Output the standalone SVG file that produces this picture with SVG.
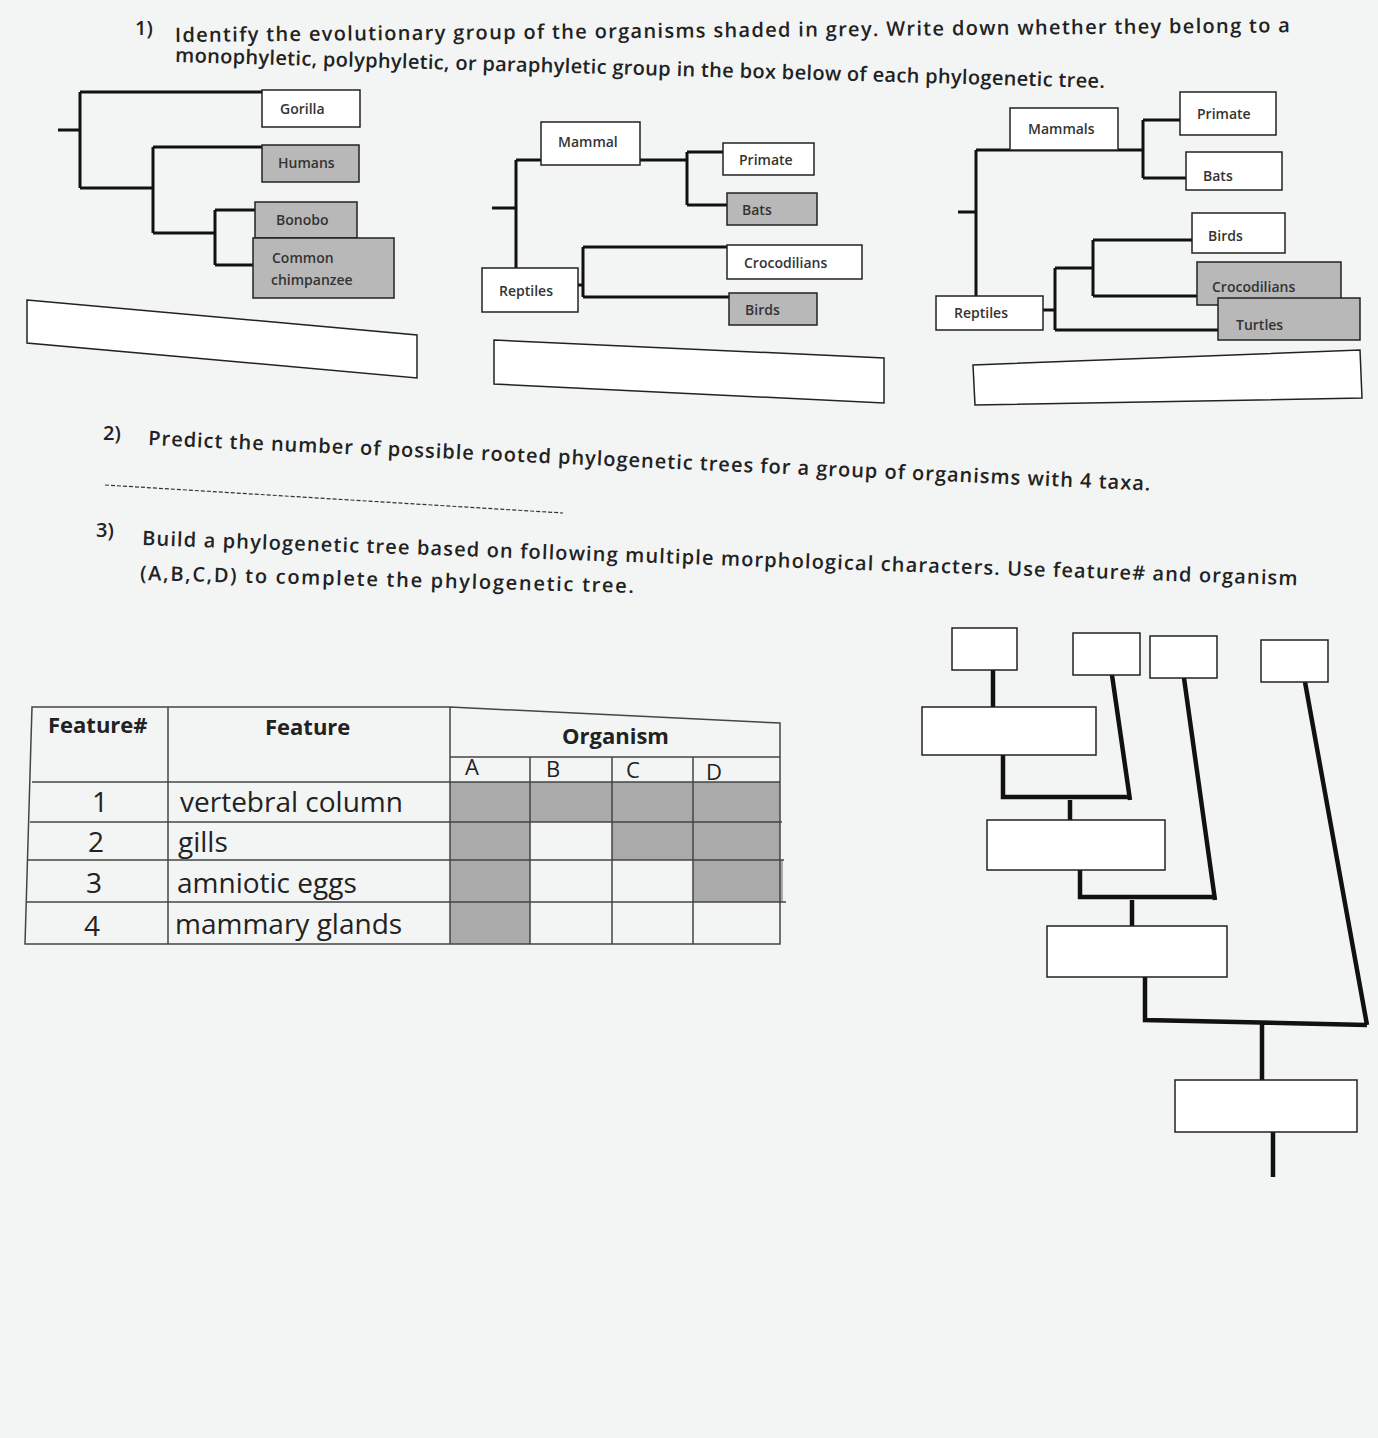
<svg xmlns="http://www.w3.org/2000/svg" width="1378" height="1438" viewBox="0 0 1378 1438">
<style>
text{font-family:"Open Sans","Liberation Sans",sans-serif;fill:#222}
.q{font-size:20px;font-weight:600}
.lb{font-size:14px;font-weight:600;fill:#333}
.b{fill:#fff;stroke:#222;stroke-width:1.5}
.g{fill:#b8b8b8;stroke:#222;stroke-width:1.5}
.ln{stroke:#111;stroke-width:3;fill:none}
.tk{stroke:#111;stroke-width:4.5;fill:none}
.t{font-size:28px;fill:#222}
.th{font-size:22px;font-weight:700}
.cell{stroke:#444;stroke-width:1.5;fill:none}
</style>
<rect width="1378" height="1438" fill="#f3f5f4"/>
<text class="q" x="135" y="35">1)</text>
<text class="q" x="175" y="42" transform="rotate(-0.5 175 42)" textLength="1115">Identify the evolutionary group of the organisms shaded in grey. Write down whether they belong to a</text>
<text class="q" x="175" y="62" transform="rotate(1.6 175 62)" textLength="930">monophyletic, polyphyletic, or paraphyletic group in the box below of each phylogenetic tree.</text>

<g id="connectors">
<path class="ln" d="M58 130H80M80 92V188M80 92H262M80 188H153M153 147V233M153 147H262M153 233H215M215 210V265M215 210H255M215 265H255"/>
<path class="ln" d="M492 208H516M516 160V285M516 160H687M516 285H583M687 152V205M687 152H723M687 205H727M583 247V297M583 247H727M583 297H729"/>
<path class="ln" d="M958 212H976M976 150V310M976 150H1143M1143 120V178M1143 120H1180M1143 178H1186M976 310H1055M1055 268V330M1055 268H1093M1093 240V296M1093 240H1192M1093 296H1197M1055 330H1218"/>
<path class="tk" d="M993 670V707M1003 755V797H1130M1112 675L1130 800M1070 800V820M1080 870V897H1215M1184 678L1215 900M1132 900V926M1145 977V1020L1367 1025M1305 682L1367 1025M1262 1022V1080M1273 1132V1177"/>
<line x1="105" y1="485" x2="563" y2="513" stroke="#333" stroke-width="1.2" stroke-dasharray="4 2"/>
</g>

<g id="gorilla"><rect class="b" x="262" y="90" width="98" height="37"/><text class="lb" x="280" y="114">Gorilla</text></g>
<g id="humans"><rect class="g" x="262" y="145" width="97" height="37"/><text class="lb" x="278" y="168">Humans</text></g>
<g id="bonobo"><rect class="g" x="255" y="202" width="102" height="36"/><text class="lb" x="276" y="225">Bonobo</text></g>
<g id="chimp"><rect class="g" x="253" y="238" width="141" height="60"/><text class="lb" x="272" y="263">Common</text><text class="lb" x="271" y="285">chimpanzee</text></g>
<g id="ans1"><polygon class="b" points="27,300 417,335 417,378 27,343"/></g>

<g id="mammal"><rect class="b" x="541" y="122" width="99" height="43"/><text class="lb" x="558" y="147">Mammal</text></g>
<g id="primate1"><rect class="b" x="723" y="143" width="91" height="32"/><text class="lb" x="739" y="165">Primate</text></g>
<g id="bats1"><rect class="g" x="727" y="193" width="90" height="32"/><text class="lb" x="742" y="215">Bats</text></g>
<g id="croc1"><rect class="b" x="727" y="245" width="135" height="34"/><text class="lb" x="744" y="268">Crocodilians</text></g>
<g id="birds1"><rect class="g" x="729" y="293" width="88" height="32"/><text class="lb" x="745" y="315">Birds</text></g>
<g id="reptiles1"><rect class="b" x="482" y="268" width="96" height="44"/><text class="lb" x="499" y="296">Reptiles</text></g>
<g id="ans2"><polygon class="b" points="494,340 884,358 884,403 494,384"/></g>

<g id="mammals"><rect class="b" x="1010" y="108" width="108" height="42"/><text class="lb" x="1028" y="134">Mammals</text></g>
<g id="primate2"><rect class="b" x="1180" y="92" width="96" height="43"/><text class="lb" x="1197" y="119">Primate</text></g>
<g id="bats2"><rect class="b" x="1186" y="152" width="96" height="38"/><text class="lb" x="1203" y="181">Bats</text></g>
<g id="birds2"><rect class="b" x="1192" y="213" width="93" height="40"/><text class="lb" x="1208" y="241">Birds</text></g>
<g id="croc2"><rect class="g" x="1197" y="262" width="144" height="43"/><text class="lb" x="1212" y="292">Crocodilians</text></g>
<g id="turtles"><rect class="g" x="1218" y="298" width="142" height="42"/><text class="lb" x="1236" y="330">Turtles</text></g>
<g id="reptiles2"><rect class="b" x="936" y="296" width="107" height="34"/><text class="lb" x="954" y="318">Reptiles</text></g>
<g id="ans3"><polygon class="b" points="973,365 1360,350 1362,398 975,405"/></g>

<text class="q" x="103" y="440">2)</text>
<text class="q" x="148" y="445" transform="rotate(2.6 148 445)" textLength="1003">Predict the number of possible rooted phylogenetic trees for a group of organisms with 4 taxa.</text>
<text class="q" x="96" y="537">3)</text>
<text class="q" x="142" y="545" transform="rotate(2 142 545)" textLength="1156">Build a phylogenetic tree based on following multiple morphological characters. Use feature# and organism</text>
<text class="q" x="140" y="580" transform="rotate(1.5 140 580)" textLength="494">(A,B,C,D) to complete the phylogenetic tree.</text>

<g id="table">
<rect x="450" y="782" width="330" height="40" fill="#aaa"/>
<rect x="450" y="822" width="80" height="38" fill="#aaa"/><rect x="612" y="822" width="168" height="38" fill="#aaa"/>
<rect x="450" y="860" width="80" height="42" fill="#aaa"/><rect x="693" y="860" width="90" height="42" fill="#aaa"/>
<rect x="450" y="902" width="80" height="42" fill="#aaa"/>
<path class="cell" d="M32 707H450L780 723V944H25ZM450 757H780M32 782H780M30 822H782M28 860H784M26 902H786M168 707V944M450 707V944M530 757V944M612 757V944M693 757V944"/>
<text class="th" x="48" y="733">Feature#</text>
<text class="th" x="265" y="735">Feature</text>
<text class="th" x="562" y="744">Organism</text>
<text x="465" y="775" style="font-size:22px">A</text><text x="546" y="777" style="font-size:22px">B</text><text x="626" y="778" style="font-size:22px">C</text><text x="706" y="780" style="font-size:22px">D</text>
<text class="t" x="92" y="812">1</text><text class="t" x="180" y="812">vertebral column</text>
<text class="t" x="88" y="852">2</text><text class="t" x="178" y="852">gills</text>
<text class="t" x="86" y="893">3</text><text class="t" x="177" y="893">amniotic eggs</text>
<text class="t" x="84" y="936">4</text><text class="t" x="175" y="934">mammary glands</text>
</g>

<g id="tb1"><rect class="b" x="952" y="628" width="65" height="42"/></g>
<g id="tb2"><rect class="b" x="1073" y="633" width="67" height="42"/></g>
<g id="tb3"><rect class="b" x="1150" y="636" width="67" height="42"/></g>
<g id="tb4"><rect class="b" x="1261" y="640" width="67" height="42"/></g>
<g id="tb5"><rect class="b" x="922" y="707" width="174" height="48"/></g>
<g id="tb6"><rect class="b" x="987" y="820" width="178" height="50"/></g>
<g id="tb7"><rect class="b" x="1047" y="926" width="180" height="51"/></g>
<g id="tb8"><rect class="b" x="1175" y="1080" width="182" height="52"/></g>
</svg>
